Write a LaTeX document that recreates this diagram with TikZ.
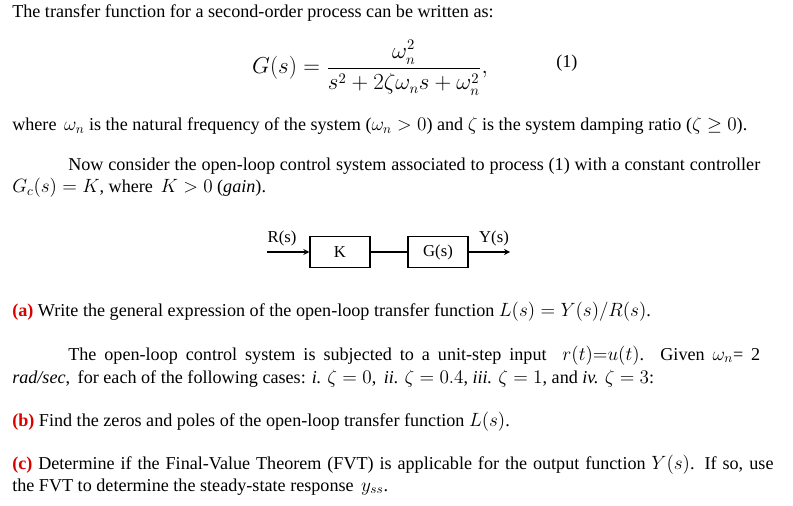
\documentclass[tikz,border=0pt]{standalone}
\usepackage{amsmath}
\usepackage{fontspec}
\setmainfont{Liberation Serif}
\begin{document}
\begin{tikzpicture}[x=0.75pt,y=-0.75pt,
  txt/.style={anchor=base west,inner sep=0pt,font=\fontsize{13.6}{16}\selectfont},
  blk/.style={draw,line width=1pt,minimum width=45pt,minimum height=23pt,inner sep=0pt,font=\fontsize{12.5}{14}\selectfont},
  lab/.style={inner sep=0pt,font=\fontsize{12.5}{14}\selectfont}]
\useasboundingbox[fill=white] (0,0) rectangle (793,506);
\node[txt] (l1) at (12,18) {The transfer function for a second-order process can be written as:};
\node[inner sep=0pt,font=\fontsize{16}{18}\selectfont] (eq) at (370,68) {$\displaystyle G(s)=\frac{\omega_n^2}{s^2+2\zeta\omega_n s+\omega_n^2},$};
\node[txt] (eqn) at (556,68) {(1)};
\node[txt] (l2) at (12,131) {where\, $\omega_n$ is the natural frequency of the system ($\omega_n>0$) and $\zeta$ is the system damping ratio ($\zeta\geq 0$).};
\node[txt] (l3) at (68,171) {\hbox to 519pt{Now consider the open-loop control system associated to process (1) with a constant controller}};
\node[txt] (l4) at (12,193) {$G_c(s)=K$, where\, $K>0$ (\textit{gain}).};
\node[blk] (k) at (340,252) {K};
\node[blk] (g) at (438,252) {G(s)};
\coordinate (in) at (267,252);
\coordinate (out) at (510,252);
\draw[line width=1pt,-stealth] (in) -- (k);
\draw[line width=1pt] (k) -- (g);
\draw[line width=1pt,-stealth] (g) -- (out);
\node[lab] (r) at (282,238) {R(s)};
\node[lab] (y) at (494,238) {Y(s)};
\node[txt] (a) at (12,316) {{\color{red!85!black}\bfseries (a)} Write the general expression of the open-loop transfer function $L(s)=Y(s)/R(s)$.};
\node[txt] (l5) at (68,360) {\hbox to 519pt{The open-loop control system is subjected to a unit-step input\ \ $r(t){=}u(t)$. Given $\omega_n$= 2}};
\node[txt] (l6) at (12,383) {\textit{rad/sec},\, for each of the following cases: \textit{i.} $\zeta=0$,\, \textit{ii.} $\zeta=0.4$, \textit{iii.} $\zeta=1$, and \textit{iv.} $\zeta=3$:};
\node[txt] (b) at (12,426) {{\color{red!85!black}\bfseries (b)} Find the zeros and poles of the open-loop transfer function $L(s)$.};
\node[txt] (c1) at (12,469) {\hbox to 571pt{{\color{red!85!black}\bfseries (c)} Determine if the Final-Value Theorem (FVT) is applicable for the output function $Y(s)$. If so, use}};
\node[txt] (c2) at (12,491) {the FVT to determine the steady-state response\, $y_{ss}$.};
\end{tikzpicture}
\end{document}
